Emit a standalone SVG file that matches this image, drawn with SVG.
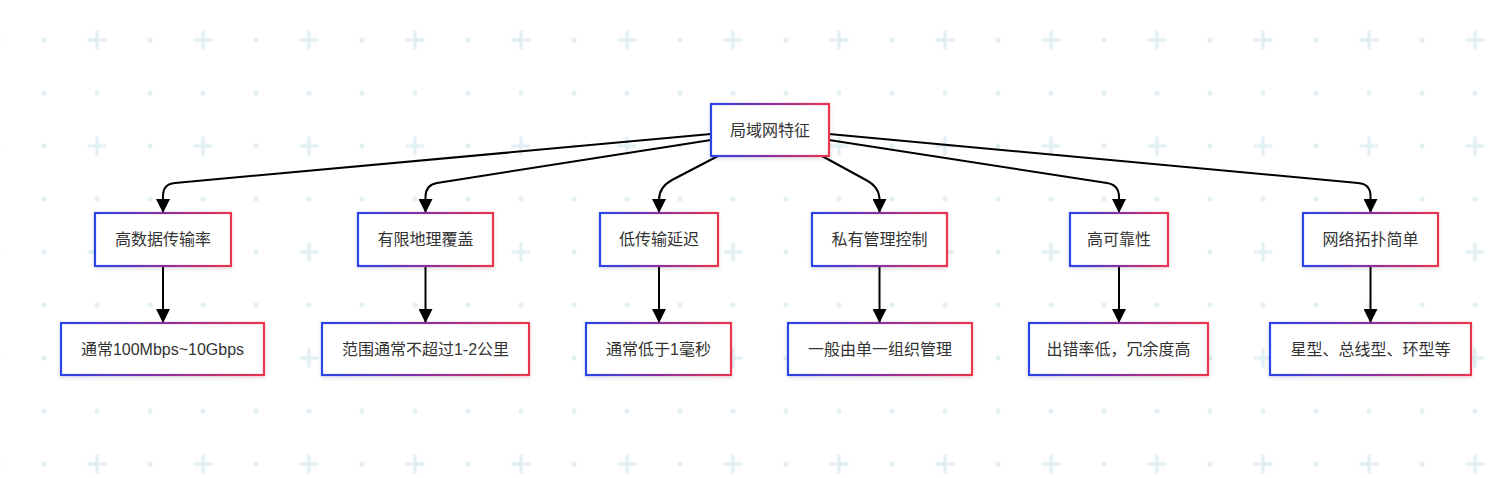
<svg xmlns="http://www.w3.org/2000/svg" width="1502" height="478" viewBox="0 0 1502 478">
<defs>
<pattern id="bg" patternUnits="userSpaceOnUse" x="17.5" y="13.5" width="106" height="106">
<circle cx="26.5" cy="26.5" r="2.6" fill="#e2eff3"/>
<circle cx="26.5" cy="79.5" r="2.6" fill="#e2eff3"/>
<circle cx="79.5" cy="79.5" r="2.6" fill="#e2eff3"/>
<path d="M71.5,26.5 H87.5 M79.5,18.5 V34.5" stroke="#e2eff3" stroke-width="3.6" stroke-linecap="round"/>
</pattern>
<linearGradient id="bd" x1="0" y1="0" x2="1" y2="0">
<stop offset="0" stop-color="#2a44e8"/>
<stop offset="0.5" stop-color="#8a2fa0"/>
<stop offset="1" stop-color="#ea344e"/>
</linearGradient>
<filter id="sh" x="-10%" y="-20%" width="120%" height="150%">
<feDropShadow dx="0" dy="2" stdDeviation="2" flood-color="#000" flood-opacity="0.12"/>
</filter>
<marker id="ar" viewBox="0 0 14 14" refX="13" refY="7" markerWidth="14" markerHeight="14" markerUnits="userSpaceOnUse" orient="auto">
<path d="M0,0 L14,7 L0,14 Z" fill="#000"/>
</marker>
</defs>
<style>
.box{fill:#fff;stroke:url(#bd);stroke-width:2.2;filter:url(#sh)}
.t{font-family:"Liberation Sans","Noto Sans CJK SC",sans-serif;font-size:16px;fill:#333;text-anchor:middle;dominant-baseline:central}
.e{fill:none;stroke:#000;stroke-width:2;marker-end:url(#ar)}
</style>
<rect width="1502" height="478" fill="#fff"/>
<rect width="1502" height="478" fill="url(#bg)"/>

<g id="edges">
<path class="e" d="M711,134 L175,183 Q163,184 163,196 L163,212"/>
<path class="e" d="M711,140 L437,183 Q425.5,185 425.5,197 L425.5,212"/>
<path class="e" d="M718,156 L672,180 Q659,187 659,200 L659,212"/>
<path class="e" d="M822,156 L866,180 Q879.5,187 879.5,200 L879.5,212"/>
<path class="e" d="M829,140 L1107,183 Q1119,185 1119,197 L1119,212"/>
<path class="e" d="M829,134 L1358,183 Q1370.5,184 1370.5,196 L1370.5,212"/>
<path class="e" d="M163,266 L163,322"/>
<path class="e" d="M425.5,266 L425.5,322"/>
<path class="e" d="M659,266 L659,322"/>
<path class="e" d="M879.5,266 L879.5,322"/>
<path class="e" d="M1119,266 L1119,322"/>
<path class="e" d="M1370.5,266 L1370.5,322"/>
</g>

<g id="root"><rect class="box" x="711" y="104" width="118" height="52"/><text class="t" x="770" y="130">局域网特征</text></g>

<g id="n1"><rect class="box" x="95" y="213" width="136" height="53"/><text class="t" x="163" y="239.5">高数据传输率</text></g>
<g id="n2"><rect class="box" x="358" y="213" width="135" height="53"/><text class="t" x="425.5" y="239.5">有限地理覆盖</text></g>
<g id="n3"><rect class="box" x="600" y="213" width="118" height="53"/><text class="t" x="659" y="239.5">低传输延迟</text></g>
<g id="n4"><rect class="box" x="812" y="213" width="135" height="53"/><text class="t" x="879.5" y="239.5">私有管理控制</text></g>
<g id="n5"><rect class="box" x="1070" y="213" width="98" height="53"/><text class="t" x="1119" y="239.5">高可靠性</text></g>
<g id="n6"><rect class="box" x="1303" y="213" width="135" height="53"/><text class="t" x="1370.5" y="239.5">网络拓扑简单</text></g>

<g id="d1"><rect class="box" x="61" y="323" width="203" height="52"/><text class="t" x="162.5" y="349">通常100Mbps~10Gbps</text></g>
<g id="d2"><rect class="box" x="322" y="323" width="207" height="52"/><text class="t" x="425.5" y="349">范围通常不超过1-2公里</text></g>
<g id="d3"><rect class="box" x="586" y="323" width="145" height="52"/><text class="t" x="658.5" y="349">通常低于1毫秒</text></g>
<g id="d4"><rect class="box" x="788" y="323" width="184" height="52"/><text class="t" x="880" y="349">一般由单一组织管理</text></g>
<g id="d5"><rect class="box" x="1029" y="323" width="179" height="52"/><text class="t" x="1118.5" y="349">出错率低，冗余度高</text></g>
<g id="d6"><rect class="box" x="1270" y="323" width="201" height="52"/><text class="t" x="1370.5" y="349">星型、总线型、环型等</text></g>
</svg>
